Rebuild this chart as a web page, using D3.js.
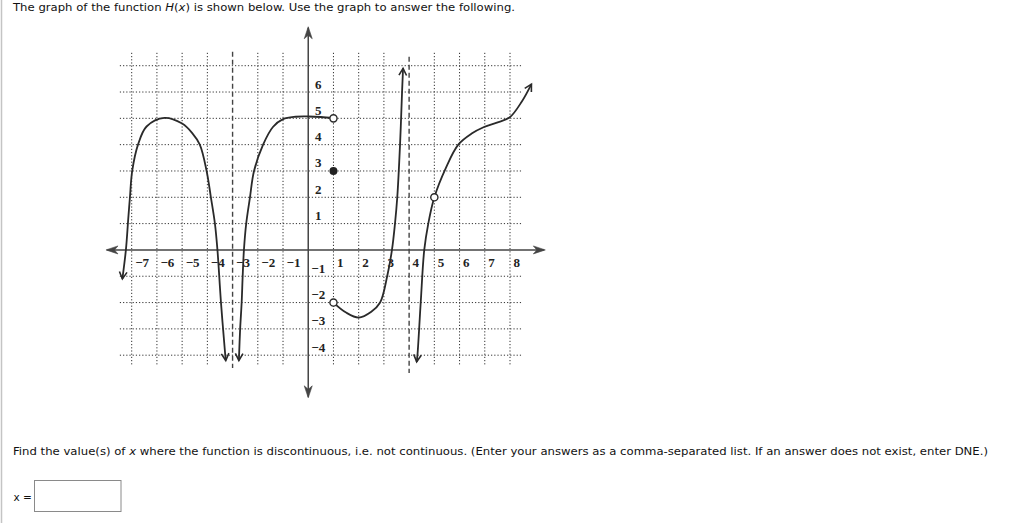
<!DOCTYPE html>
<html>
<head>
<meta charset="utf-8">
<script src="https://cdn.jsdelivr.net/npm/d3@7"></script>
<style>
  body { margin: 0; background: #fff; }
  svg { display: block; }
</style>
</head>
<body>
<div id="chart"></div>
<script>
// Graph of H(x) with holes, a jump and two vertical asymptotes

const xTicks = [-7, -6, -5, -4, -3, -2, -1, 1, 2, 3, 4, 5, 6, 7, 8];
const yTicks = [-4, -3, -2, -1, 1, 2, 3, 4, 5, 6, 7];
const xTickLabels = ["\u22127", "\u22126", "\u22125", "\u22124", "\u22123", "\u22122", "\u22121", "1", "2", "3", "4", "5", "6", "7", "8"];
const yTickLabels = ["\u22124", "\u22123", "\u22122", "\u22121", "1", "2", "3", "4", "5", "6", ""];
const asymptotes = [-3, 4];

// curve pieces
const branchA = [[-7.37, -1.1], [-7.23, 0], [-7.14, 1.14], [-7.07, 2], [-6.98, 3], [-6.75, 4], [-6.41, 4.69],
  [-5.7, 5.02], [-5.0, 4.8], [-4.6, 4.44], [-4.3, 4], [-4.03, 3], [-3.86, 2], [-3.7, 1], [-3.6, 0],
  [-3.46, -2], [-3.29, -4], [-3.27, -4.2]];
const branchB = [[-2.75, -4.2], [-2.7, -3], [-2.64, -2], [-2.6, -1], [-2.55, 0], [-2.46, 1], [-2.31, 2],
  [-2.15, 3], [-1.79, 4], [-1.4, 4.67], [-1, 4.97], [-0.5, 5.06], [0, 5.07], [0.5, 5.05], [1, 5]];
const branchC = [[1, -2], [1.5, -2.38], [2, -2.57], [2.5, -2.35], [2.85, -2], [3.13, -1], [3.32, 0],
  [3.44, 1], [3.53, 2], [3.64, 4], [3.72, 6], [3.76, 6.9]];
const branchD = [[4.3, -4.25], [4.33, -4], [4.46, -2], [4.6, 0], [4.76, 1], [5, 2], [5.45, 3.1],
  [5.95, 4.0], [6.48, 4.42], [6.97, 4.67], [7.48, 4.84], [7.98, 5.03], [8.47, 5.64], [8.85, 6.3]];
const openPoints = [[1, 5], [1, -2], [5, 2]];
const filledPoints = [[1, 3]];

const questionTop = "The graph of the function ";
const questionEnd = " is shown below. Use the graph to answer the following.";
const questionBottom = "Find the value(s) of x where the function is discontinuous, i.e. not continuous. (Enter your answers as a comma-separated list. If an answer does not exist, enter DNE.)";

const width = 1024, height = 523;

const svg = d3.select("#chart").append("svg")
  .attr("width", width)
  .attr("height", height);

// page frame line on the left
svg.append("line")
  .attr("x1", 1.5).attr("x2", 1.5).attr("y1", 0).attr("y2", height)
  .attr("stroke", "#c4c4c4").attr("stroke-width", 1.5);

const x = d3.scaleLinear().domain([-7, 8]).range([131.7, 510]);
const y = d3.scaleLinear().domain([-4, 7]).range([355.2, 65.7]);

const g = svg.append("g");

// dotted grid
g.selectAll(".vgrid")
  .data(xTicks.filter(d => !asymptotes.includes(d)))
  .enter().append("line")
  .attr("x1", d => x(d)).attr("x2", d => x(d))
  .attr("y1", y(7.49)).attr("y2", y(-4.42))
  .attr("stroke", "#333").attr("stroke-width", 1)
  .attr("stroke-dasharray", "1.2,2");

g.selectAll(".hgrid")
  .data(yTicks)
  .enter().append("line")
  .attr("x1", x(-7.47)).attr("x2", x(8.48))
  .attr("y1", d => y(d)).attr("y2", d => y(d))
  .attr("stroke", "#333").attr("stroke-width", 1)
  .attr("stroke-dasharray", "1.2,2");

// dashed asymptotes
g.selectAll(".asym")
  .data(asymptotes)
  .enter().append("line")
  .attr("x1", d => x(d)).attr("x2", d => x(d))
  .attr("y1", d => d < 0 ? y(7.53) : y(7.34))
  .attr("y2", d => d < 0 ? y(-4.49) : y(-4.68))
  .attr("stroke", "#444").attr("stroke-width", 1.4)
  .attr("stroke-dasharray", "5,3");

// axes
g.append("line")
  .attr("x1", x(-7.97)).attr("x2", x(9.35))
  .attr("y1", y(0)).attr("y2", y(0))
  .attr("stroke", "#444").attr("stroke-width", 1.5);
g.append("line")
  .attr("x1", x(0)).attr("x2", x(0))
  .attr("y1", y(8.44)).attr("y2", y(-5.58))
  .attr("stroke", "#444").attr("stroke-width", 1.5);

const axisHead = "M0,0 L-12,-4 L-8.5,0 L-12,4 Z";
[
  [x(9.4), y(0), 0], [x(-8.02), y(0), 180],
  [x(0), y(8.48), -90], [x(0), y(-5.62), 90]
].forEach(([px, py, a]) => {
  g.append("path")
    .attr("d", axisHead)
    .attr("transform", `translate(${px},${py}) rotate(${a})`)
    .attr("fill", "#444").attr("stroke", "#444").attr("stroke-width", 0.6);
});

// tick labels
const tickFont = "'Liberation Serif', 'Times New Roman', serif";
g.selectAll(".xlab")
  .data(xTicks)
  .enter().append("text")
  .attr("x", d => x(d) + 3.5)
  .attr("y", y(0) + 17)
  .text((d, i) => xTickLabels[i])
  .style("font-family", tickFont)
  .style("font-size", "13px")
  .style("font-weight", "bold")
  .attr("fill", "#222");

g.selectAll(".ylab")
  .data(yTicks)
  .enter().append("text")
  .attr("x", x(0) + 10)
  .attr("y", d => y(d) - 3.5)
  .attr("text-anchor", "middle")
  .text((d, i) => yTickLabels[i])
  .style("font-family", tickFont)
  .style("font-size", "13px")
  .style("font-weight", "bold")
  .attr("fill", "#222");

// the function
const line = d3.line()
  .x(d => x(d[0]))
  .y(d => y(d[1]))
  .curve(d3.curveCatmullRom.alpha(0.5));

const branches = [branchA, branchB, branchC, branchD];
g.selectAll(".branch")
  .data(branches)
  .enter().append("path")
  .attr("d", line)
  .attr("fill", "none")
  .attr("stroke", "#2a2a2a")
  .attr("stroke-width", 1.8);

// arrowheads at open ends
const curveHead = "M-7,-3.8 L0,0 L-7,3.8";
function arrowAt(pts, atStart) {
  const a = atStart ? pts[0] : pts[pts.length - 1];
  const b = atStart ? pts[1] : pts[pts.length - 2];
  const ang = Math.atan2(y(a[1]) - y(b[1]), x(a[0]) - x(b[0])) * 180 / Math.PI;
  g.append("path")
    .attr("d", curveHead)
    .attr("transform", `translate(${x(a[0])},${y(a[1])}) rotate(${ang})`)
    .attr("fill", "none")
    .attr("stroke", "#2a2a2a")
    .attr("stroke-width", 1.6);
}
arrowAt(branchA, true);
arrowAt(branchA, false);
arrowAt(branchB, true);
arrowAt(branchC, false);
arrowAt(branchD, true);
arrowAt(branchD, false);

g.selectAll(".open")
  .data(openPoints)
  .enter().append("circle")
  .attr("cx", d => x(d[0])).attr("cy", d => y(d[1]))
  .attr("r", 3.6)
  .attr("fill", "#fff").attr("stroke", "#2a2a2a").attr("stroke-width", 1.4);

g.selectAll(".filled")
  .data(filledPoints)
  .enter().append("circle")
  .attr("cx", d => x(d[0])).attr("cy", d => y(d[1]))
  .attr("r", 4)
  .attr("fill", "#222");

// question text
const font = "'DejaVu Sans', Verdana, sans-serif";
const topLine = svg.append("text")
  .attr("x", 13).attr("y", 11)
  .style("font-family", font).style("font-size", "11px")
  .attr("fill", "#111")
  .attr("textLength", 502).attr("lengthAdjust", "spacingAndGlyphs");
topLine.append("tspan").text(questionTop);
topLine.append("tspan").style("font-style", "italic").text("H");
topLine.append("tspan").text("(");
topLine.append("tspan").style("font-style", "italic").text("x");
topLine.append("tspan").text(")");
topLine.append("tspan").text(questionEnd);

const parts = questionBottom.split(" x ");
const bottomLine = svg.append("text")
  .attr("x", 13).attr("y", 455)
  .style("font-family", font).style("font-size", "11px")
  .attr("fill", "#111")
  .attr("textLength", 975).attr("lengthAdjust", "spacingAndGlyphs");
bottomLine.append("tspan").text(parts[0] + " ");
bottomLine.append("tspan").style("font-style", "italic").text("x");
bottomLine.append("tspan").text(" " + parts[1]);

svg.append("text")
  .attr("x", 13.5).attr("y", 501)
  .style("font-family", font).style("font-size", "10.5px")
  .attr("fill", "#111")
  .text("x =");

svg.append("rect")
  .attr("x", 34.5).attr("y", 480.5)
  .attr("width", 86.5).attr("height", 31)
  .attr("fill", "#fff")
  .attr("stroke", "#8a8a8a").attr("stroke-width", 1);
</script>
</body>
</html>
